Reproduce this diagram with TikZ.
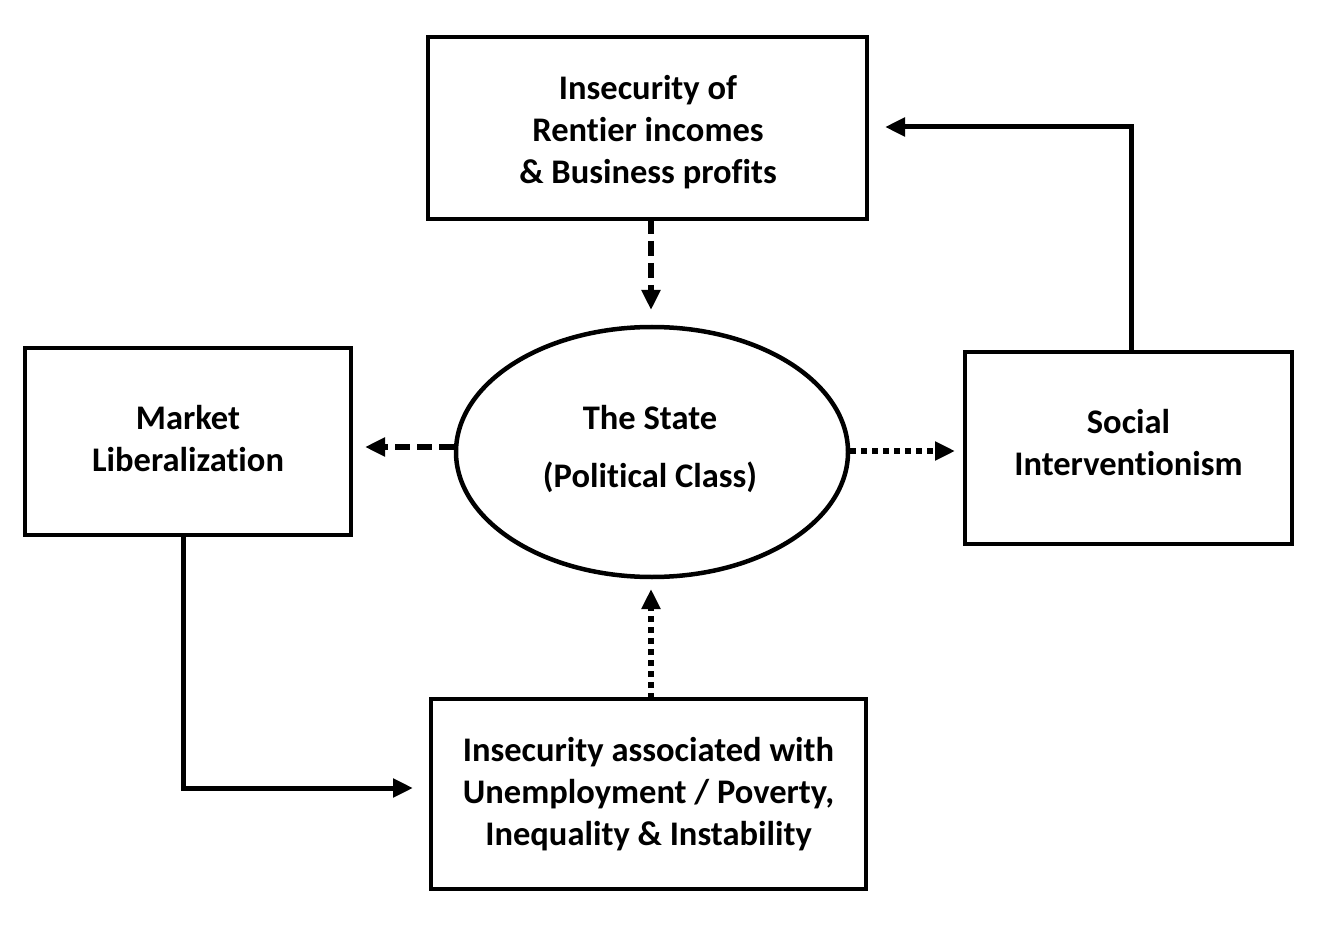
\documentclass[tikz,border=0pt]{standalone}
\usepackage{fontspec}
\setmainfont[Ligatures=NoCommon]{Carlito}
\usetikzlibrary{arrows.meta,shapes.geometric}
\begin{document}
\begin{tikzpicture}[x=1pt,y=-1pt,
  box/.style={draw,line width=4.5pt,inner sep=0pt},
  lbl/.style={font=\fontsize{34.5}{42}\selectfont\bfseries,align=center},
  tip/.style={-{Triangle[length=20pt,width=18pt]}},
  conn/.style={line width=5pt,tip},
  dashconn/.style={line width=6pt,dash pattern=on 15pt off 7pt,tip},
  dotconn/.style={line width=6pt,dash pattern=on 6pt off 5pt,tip}]
\useasboundingbox (0,0) rectangle (1323,925);
\node[box,minimum width=439pt,minimum height=182pt] (top) at (647.5,128) {};
\node[lbl] at (648,132) {Insecurity of\\Rentier incomes\\\& Business profits};
\node[box,minimum width=326pt,minimum height=187pt] (left) at (188,441.5) {};
\node[lbl] at (188,439) {Market\\Liberalization};
\node[box,minimum width=327pt,minimum height=192pt] (right) at (1128.5,448) {};
\node[lbl] at (1128.5,443) {Social\\Interventionism};
\node[box,minimum width=435pt,minimum height=190pt] (bot) at (648.5,794) {};
\node[lbl] at (648.5,794) {Insecurity associated with\\Unemployment / Poverty,\\Inequality \& Instability};
\node[draw,ellipse,line width=4.5pt,minimum width=392pt,minimum height=250pt,inner sep=0pt] (state) at (652,452) {};
\node[lbl,font=\fontsize{34.5}{58}\selectfont\bfseries] at (650,449) {The State\\(Political Class)};
\coordinate (a1) at (651,310);
\coordinate (a2) at (365,447);
\coordinate (a3) at (955,451);
\coordinate (a4) at (651,589);
\coordinate (a5) at (413,788);
\coordinate (a6) at (885,127);
\draw[dashconn] (651,219) -- (a1);
\draw[dashconn] (state.west |- 0,447) -- (a2);
\draw[dotconn] (state.east |- 0,451) -- (a3);
\draw[dotconn] (651,699) -- (a4);
\draw[conn] (left.south -| 183,0) |- (a5);
\draw[conn] (right.north -| 1131,0) |- (a6);
\end{tikzpicture}
\end{document}
